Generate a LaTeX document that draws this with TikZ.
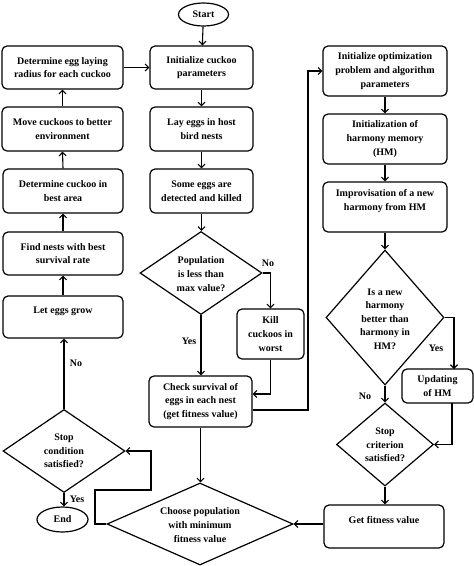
\documentclass[tikz,border=0pt]{standalone}
\usepackage{fontspec}
\setmainfont{Liberation Serif}
\usetikzlibrary{shapes.geometric,arrows.meta}
\begin{document}
\begin{tikzpicture}[x=1pt,y=-1pt,
  every node/.style={font=\fontsize{10}{13.6}\selectfont\bfseries},
  box/.style={draw,rounded corners=5pt,line width=1.2pt,align=center,inner sep=0pt},
  dia/.style={draw,diamond,line width=1.2pt,inner sep=0pt},
  ell/.style={draw,ellipse,line width=1.2pt,inner sep=0pt},
  txt/.style={align=center,inner sep=0pt},
  lbl/.style={inner sep=0pt},
  arr/.style={line width=1.1pt,-{Straight Barb[length=3.5pt,width=7pt]}},
  ln/.style={line width=1.1pt}]
\useasboundingbox (0,0) rectangle (474,566);
% middle column
\node[ell,minimum width=50,minimum height=23] (start) at (203.5,14.5) {Start};
\node[box,minimum width=103,minimum height=43] (c1) at (201.5,67.5) {Initialize cuckoo\\parameters};
\node[box,minimum width=103,minimum height=44] (c2) at (201.5,129) {Lay eggs in host\\bird nests};
\node[box,minimum width=103,minimum height=44] (c3) at (201.5,191) {Some eggs are\\detected and killed};
\node[dia,minimum width=122,minimum height=83] (pop) at (201,273) {};
\node[txt] (popt) at (201,274) {Population\\is less than\\max value?};
\node[box,minimum width=67,minimum height=50] (kill) at (270.5,334) {Kill\\cuckoos in\\worst};
\node[box,minimum width=103,minimum height=51] (check) at (200.5,401.5) {Check survival of\\eggs in each nest\\(get fitness value)};
\node[dia,minimum width=186,minimum height=82] (choose) at (200,524) {};
\node[txt] (chooset) at (200,525) {Choose population\\with minimum\\fitness value};
% left column
\node[box,minimum width=121,minimum height=43] (l1) at (62.5,67.5) {Determine egg laying\\radius for each cuckoo};
\node[box,minimum width=121,minimum height=44] (l2) at (62.5,129) {Move cuckoos to better\\environment};
\node[box,minimum width=120,minimum height=44] (l3) at (63,191) {Determine cuckoo in\\best area};
\node[box,minimum width=120,minimum height=43] (l4) at (63,253.5) {Find nests with best\\survival rate};
\node[box,minimum width=120,minimum height=42] (l5) at (63,317) {Let eggs grow\\~};
\node[dia,minimum width=122,minimum height=83] (stopc) at (64,451) {};
\node[txt] (stopct) at (64,451) {Stop\\condition\\satisfied?};
\node[ell,minimum width=51,minimum height=25] (end) at (62.5,519.5) {End};
% right column
\node[box,minimum width=124,minimum height=50] (r1) at (385,71) {Initialize optimization\\problem and algorithm\\parameters};
\node[box,minimum width=124,minimum height=50] (r2) at (385,139) {Initialization of\\harmony memory\\(HM)};
\node[box,minimum width=124,minimum height=50] (r3) at (385,207) {Improvisation of a new\\harmony from HM\\~};
\node[dia,minimum width=118,minimum height=135] (isnew) at (385,317.5) {};
\node[txt] (isnewt) at (385,319) {Is a new\\harmony\\better than\\harmony in\\HM?};
\node[box,minimum width=71,minimum height=34] (upd) at (437.5,386) {Updating\\of HM};
\node[dia,minimum width=97,minimum height=83] (stopcr) at (385,444.5) {};
\node[txt] (stopcrt) at (385,445) {Stop\\criterion\\satisfied?};
\node[box,minimum width=120,minimum height=43] (getfit) at (384,526.5) {Get fitness value\\~};
% labels
\node[lbl] (lno1) at (268,263) {No};
\node[lbl] (lyes1) at (189,341) {Yes};
\node[lbl] (lno2) at (76,363) {No};
\node[lbl] (lyes2) at (77,499) {Yes};
\node[lbl] (lyes3) at (436,348) {Yes};
\node[lbl] (lno3) at (365,396) {No};
% coordinates
\coordinate (jr) at (308,410);
\coordinate (kj) at (270.5,394);
\coordinate (la) at (95,490);
\coordinate (lb) at (151,490);
\coordinate (yu) at (454,369);
\coordinate (ud) at (452,403);
% connectors middle
\draw[arr] (start) -- (c1);
\draw[arr] (c1) -- (c2);
\draw[arr] (c2) -- (c3);
\draw[arr] (c3.south) -- (c3.south |- pop.north);
\draw[arr] (pop.east) -| (kill.north);
\draw[arr] (pop.south) -- (pop.south |- check.north);
\draw[arr] (kill.south) -- (kj) -- (check.east |- kj);
\draw[arr] (check.east |- jr) -- (jr) |- (r1.west);
\draw[arr] (check.south) -- (check.south |- choose.north);
\draw[arr] (getfit.west |- choose.east) -- (choose.east);
\draw[arr] (choose.west) -| (la) -- (lb) |- (stopc.east);
% left
\draw[arr] (stopc.north) -- (stopc.north |- l5.south);
\draw[arr] (stopc.south) -- (stopc.south |- end.north);
\draw[arr] (l5.north) -- (l4.south);
\draw[arr] (l4.north) -- (l3.south);
\draw[arr] (l3.north) -- (l2.south);
\draw[arr] (l2.north) -- (l1.south);
\draw[arr] (l1.east) -- (c1.west);
% right
\draw[arr] (r1) -- (r2);
\draw[arr] (r2) -- (r3);
\draw[arr] (r3.south) -- (isnew.north);
\draw[arr] (isnew.east) -| (yu);
\draw[arr] (isnew.south) -- (stopcr.north);
\draw[arr] (ud) |- (stopcr.east);
\draw[arr] (stopcr.south) -- (stopcr.south |- getfit.north);
\end{tikzpicture}
\end{document}
